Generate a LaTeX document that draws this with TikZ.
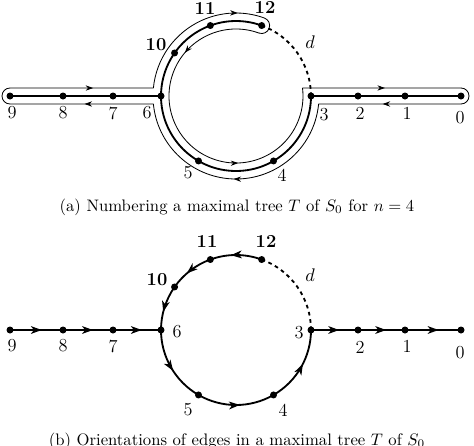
\documentclass[tikz,border=0pt]{standalone}
\usetikzlibrary{calc,arrows.meta,decorations.markings}
\begin{document}
\begin{tikzpicture}[x=0.6pt,y=0.6pt,
  dot/.style={circle,fill,inner sep=0pt,minimum size=4.2pt},
  tree/.style={line width=1.1pt},
  contour/.style={line width=0.5pt},
  dashedarc/.style={line width=1.1pt,dash pattern=on 2.2pt off 2.2pt},
  lab/.style={font=\fontsize{11}{12}\selectfont,inner sep=0pt},
  tipA/.tip={Stealth[length=4.5pt,width=3.2pt]},
  tipB/.tip={Stealth[length=6.5pt,width=4.6pt,inset=1.8pt]},
  arrA/.style={postaction={decorate,decoration={markings,mark=at position #1 with {\arrow{tipA}}}}},
  arrB/.style={postaction={decorate,decoration={markings,mark=at position #1 with {\arrow{tipB}}}}},
]
\useasboundingbox (0,0) rectangle (474,445);

% ---------------- (a) ----------------
\coordinate (cA) at (236,349);
\node[dot] (a9) at (10,349) {};
\node[dot] (a8) at (63,349) {};
\node[dot] (a7) at (113,349) {};
\node[dot] (a6) at ($(cA)+(180:75)$) {};
\node[dot] (a3) at ($(cA)+(0:75)$) {};
\node[dot] (a2) at (358,349) {};
\node[dot] (a1) at (405,349) {};
\node[dot] (a0) at (461,349) {};
\node[dot] (a10) at ($(cA)+(145:75)$) {};
\node[dot] (a11) at ($(cA)+(110:75)$) {};
\node[dot] (a12) at ($(cA)+(70:75)$) {};
\node[dot] (a5) at ($(cA)+(240:75)$) {};
\node[dot] (a4) at ($(cA)+(300:75)$) {};

\draw[tree] (a9.center) -- (a6.center);
\draw[tree] (a6.center) arc[start angle=180,end angle=70,radius=75];
\draw[tree] (a6.center) arc[start angle=180,end angle=360,radius=75];
\draw[tree] (a3.center) -- (a0.center);
\draw[dashedarc] (a12.center) arc[start angle=70,end angle=0,radius=75];

% contour
\coordinate (p1) at ($(a9)+(0,8)$);
\coordinate (p2) at ($(cA)+(174.5:83)$);
\coordinate (p3) at ($(cA)+(70:83)$);
\coordinate (p4) at ($(cA)+(70:67)$);
\coordinate (p5) at ($(cA)+(6.9:67)$);
\coordinate (p6) at ($(a0)+(0,8)$);
\coordinate (p7) at ($(a0)+(0,-8)$);
\coordinate (p8) at ($(cA)+(-5.5:83)$);
\coordinate (p9) at ($(cA)+(-174.5:83)$);
\coordinate (p10) at ($(a9)+(0,-8)$);
\draw[contour,arrA=0.58] (p1) -- (p2);
\draw[contour,arrA=0.82] (p2) arc[start angle=174.5,end angle=70,radius=83];
\draw[contour] (p3) arc[start angle=70,end angle=-110,radius=8];
\draw[contour,postaction={decorate,decoration={markings,
    mark=at position 0.235 with {\arrow{tipA}},
    mark=at position 0.68 with {\arrow{tipA}}}}]
  (p4) arc[start angle=70,end angle=366.9,radius=67];
\draw[contour,arrA=0.52] (p5) -- (p6);
\draw[contour] (p6) arc[start angle=90,end angle=-90,radius=8];
\draw[contour,arrA=0.55] (p7) -- (p8);
\draw[contour,arrA=0.51] (p8) arc[start angle=-5.5,end angle=-174.5,radius=83];
\draw[contour,arrA=0.48] (p9) -- (p10);
\draw[contour] (p10) arc[start angle=270,end angle=90,radius=8];

\node[lab] (la9) at (12,332) {9};
\node[lab] (la8) at (63,332) {8};
\node[lab] (la7) at (113,332) {7};
\node[lab] (la6) at (147,332) {6};
\node[lab] (la10) at (156,400) {\textbf{10}};
\node[lab] (la11) at (205,437) {\textbf{11}};
\node[lab] (la12) at (265,438) {\textbf{12}};
\node[lab] (lad) at (310,403) {$d$};
\node[lab] (la3) at (324,330) {3};
\node[lab] (la2) at (360,332) {2};
\node[lab] (la1) at (407,332) {1};
\node[lab] (la0) at (460,327) {0};
\node[lab] (la5) at (188,272) {5};
\node[lab] (la4) at (282,270) {4};
\node[anchor=base,inner sep=0pt] (capA) at (237,234) {(a) Numbering a maximal tree $T$ of $S_0$ for $n=4$};

% ---------------- (b) ----------------
\coordinate (cB) at (236,115);
\node[dot] (b9) at (10,115) {};
\node[dot] (b8) at (63,115) {};
\node[dot] (b7) at (113,115) {};
\node[dot] (b6) at ($(cB)+(180:75)$) {};
\node[dot] (b3) at ($(cB)+(0:75)$) {};
\node[dot] (b2) at (358,115) {};
\node[dot] (b1) at (405,115) {};
\node[dot] (b0) at (461,115) {};
\node[dot] (b10) at ($(cB)+(145:75)$) {};
\node[dot] (b11) at ($(cB)+(110:75)$) {};
\node[dot] (b12) at ($(cB)+(70:75)$) {};
\node[dot] (b5) at ($(cB)+(240:75)$) {};
\node[dot] (b4) at ($(cB)+(300:75)$) {};

\draw[tree,arrB=0.6] (b9.center) -- (b8.center);
\draw[tree,arrB=0.6] (b8.center) -- (b7.center);
\draw[tree,arrB=0.6] (b7.center) -- (b6.center);
\draw[tree,arrB=0.6] (b12.center) arc[start angle=70,end angle=110,radius=75];
\draw[tree,arrB=0.6] (b11.center) arc[start angle=110,end angle=145,radius=75];
\draw[tree,arrB=0.6] (b10.center) arc[start angle=145,end angle=180,radius=75];
\draw[tree,arrB=0.55] (b6.center) arc[start angle=180,end angle=240,radius=75];
\draw[tree,arrB=0.55] (b5.center) arc[start angle=240,end angle=300,radius=75];
\draw[tree,arrB=0.55] (b4.center) arc[start angle=300,end angle=360,radius=75];
\draw[tree,arrB=0.6] (b3.center) -- (b2.center);
\draw[tree,arrB=0.6] (b2.center) -- (b1.center);
\draw[tree,arrB=0.6] (b1.center) -- (b0.center);
\draw[dashedarc] (b12.center) arc[start angle=70,end angle=0,radius=75];

\node[lab] (lb9) at (12,99) {9};
\node[lab] (lb8) at (63,99) {8};
\node[lab] (lb7) at (113,99) {7};
\node[lab] (lb6) at (177,113) {6};
\node[lab] (lb10) at (157,165) {\textbf{10}};
\node[lab] (lb11) at (207,204) {\textbf{11}};
\node[lab] (lb12) at (266,204) {\textbf{12}};
\node[lab] (lbd) at (310,170) {$d$};
\node[lab] (lb3) at (299,112) {3};
\node[lab] (lb2) at (360,98) {2};
\node[lab] (lb1) at (407,99) {1};
\node[lab] (lb0) at (460,92) {0};
\node[lab] (lb5) at (188,35) {5};
\node[lab] (lb4) at (283,35) {4};
\node[anchor=base,inner sep=0pt] (capB) at (237,0) {(b) Orientations of edges in a maximal tree $T$ of $S_0$};
\end{tikzpicture}
\end{document}
